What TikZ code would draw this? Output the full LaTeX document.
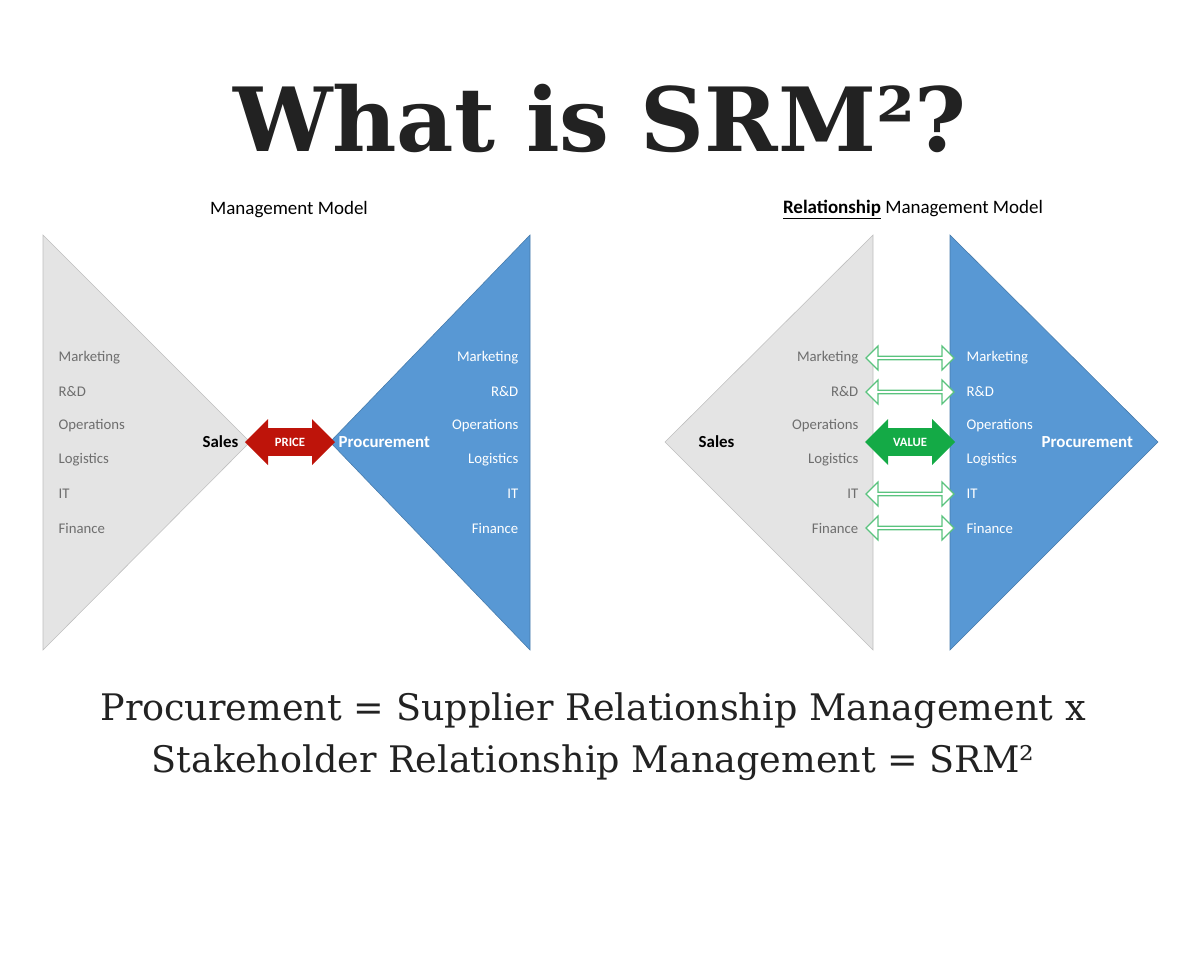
\documentclass[tikz,border=0pt]{standalone}
\usepackage{fontspec}
\setmainfont{DejaVu Serif}
\newfontfamily\lbl{Carlito}
\usetikzlibrary{positioning,shapes.arrows}
\definecolor{tribg}{RGB}{228,228,228}
\definecolor{triblue}{RGB}{88,152,212}
\definecolor{pricered}{RGB}{190,20,10}
\definecolor{valuegreen}{RGB}{20,170,70}
\definecolor{lbgray}{RGB}{110,110,110}
\definecolor{inkdark}{RGB}{34,34,34}
\begin{document}
\begin{tikzpicture}[x=0.025cm,y=-0.025cm,
grayside/.style={fill=tribg, draw=black!25},
blueside/.style={fill=triblue, draw=triblue!80!black},
grayitem/.style={font=\lbl\fontsize{10.5}{12}\selectfont, text=lbgray, inner sep=1pt},
blueitem/.style={font=\lbl\fontsize{10.5}{12}\selectfont, text=white, inner sep=1pt},
party/.style={font=\lbl\bfseries\fontsize{12}{14}\selectfont, inner sep=1pt},
bigarrow/.style={double arrow, minimum height=90*0.025cm, minimum width=46*0.025cm, double arrow head extend=0.12cm, inner sep=2pt, font=\lbl\bfseries\fontsize{9}{10}\selectfont, text=white},
linkarrow/.style={double arrow, draw=valuegreen!70, fill=white, thick, minimum height=88*0.025cm, minimum width=24*0.025cm, double arrow head extend=0.08cm, inner sep=0pt},
]
\useasboundingbox (0,0) rectangle (1200,960);
%Title
\node[text=inkdark] (title) at (600,118) {\fontsize{63}{70}\selectfont\bfseries What is SRM²?};
%Left model
\node[font=\lbl\fontsize{13.5}{16}\selectfont] (lhead) at (289,210) {Management Model};
\draw[grayside] (43,235) -- (43,650) -- (250,442) -- cycle;
\draw[blueside] (530,235) -- (530,650) -- (330,442) -- cycle;
\foreach \t/\y in {Marketing/358, R\&D/392, Operations/426, Logistics/460, IT/494, Finance/528}{
  \node[grayitem, anchor=west] at (57,\y) {\t};
  \node[blueitem, anchor=east] at (520,\y) {\t};
}
\node[party, anchor=east] (lsales) at (240,442) {Sales};
\node[bigarrow, fill=pricered] (price) at (290,442) {PRICE};
\node[party, anchor=west, text=white] (lproc) at (337,442) {Procurement};
%Right model
\node[font=\lbl\fontsize{13.5}{16}\selectfont] (rhead) at (913,210) {\underline{\textbf{Relationship}} Management Model};
\draw[grayside] (873,235) -- (873,650) -- (665,442) -- cycle;
\draw[blueside] (950,235) -- (950,650) -- (1158,442) -- cycle;
\foreach \t/\y in {Marketing/358, R\&D/392, Operations/426, Logistics/460, IT/494, Finance/528}{
  \node[grayitem, anchor=east] at (860,\y) {\t};
  \node[blueitem, anchor=west] at (965,\y) {\t};
}
\foreach \y in {358,392,494,528}
  \node[linkarrow] at (910,\y) {};
\node[party, anchor=west] (rsales) at (697,442) {Sales};
\node[bigarrow, fill=valuegreen] (value) at (910,442) {VALUE};
\node[party, anchor=west, text=white] (rproc) at (1040,442) {Procurement};
%Formula
\node[align=center, text=inkdark, font=\fontsize{26}{37}\selectfont] (formula) at (593,737) {Procurement = Supplier Relationship Management x\\Stakeholder Relationship Management = SRM²};
\end{tikzpicture}
\end{document}
